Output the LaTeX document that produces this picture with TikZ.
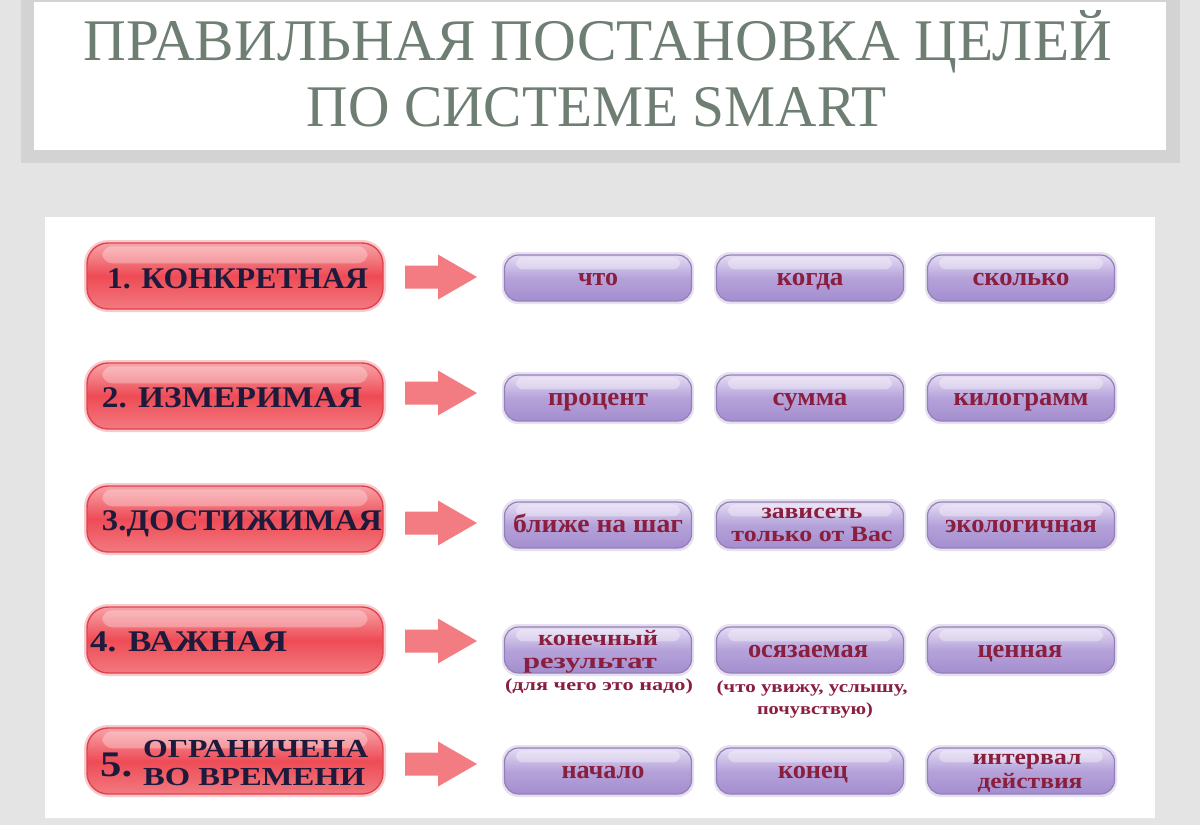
\documentclass[tikz,border=0pt]{standalone}
\usepackage{fontspec}
\setmainfont{Liberation Serif}
\usepackage{graphicx}
\usetikzlibrary{calc}
\definecolor{bggray}{HTML}{E4E4E4}
\definecolor{framegray}{HTML}{D3D3D3}
\definecolor{titlec}{HTML}{6E7E72}
\definecolor{navy}{HTML}{1E1A3C}
\definecolor{crimson}{HTML}{8A1E3E}
\definecolor{arrowc}{HTML}{F27C82}
\definecolor{redhi}{HTML}{F7A3A8}
\definecolor{redmid}{HTML}{EE4B55}
\definecolor{redlow}{HTML}{F27A80}
\definecolor{redrim}{HTML}{E0424E}
\definecolor{redglow}{HTML}{F9CACD}
\definecolor{purhi}{HTML}{E4DCF3}
\definecolor{purmid}{HTML}{B5A2DA}
\definecolor{purlow}{HTML}{A48ECE}
\definecolor{purrim}{HTML}{9280BA}
\definecolor{purglow}{HTML}{E6E0EF}
\newcommand\fw[2]{\resizebox{#1pt}{\height}{#2}}
\begin{document}
\begin{tikzpicture}[x=1pt,y=1pt,
  redbox/.style={rounded corners=21pt, minimum width=296pt, minimum height=66pt, inner sep=0pt,
    draw=redrim, line width=1.4pt, top color=redhi, bottom color=redlow, middle color=redmid},
  purbox/.style={rounded corners=14pt, minimum width=187pt, minimum height=46pt, inner sep=0pt,
    draw=purrim, line width=1.2pt, top color=purhi, bottom color=purlow, middle color=purmid},
  redtxt/.style={inner sep=0pt, text=navy, font=\fontsize{30}{32}\selectfont\bfseries},
  redsmall/.style={inner sep=0pt, text=navy, font=\fontsize{26}{28}\selectfont\bfseries},
  purtxt/.style={inner sep=0pt, anchor=base, text=crimson, font=\fontsize{26}{28}\selectfont\bfseries},
  purtwo/.style={inner sep=0pt, anchor=base, text=crimson, font=\fontsize{22}{23}\selectfont\bfseries},
  notetxt/.style={inner sep=0pt, anchor=base, text=crimson, font=\fontsize{17}{19}\selectfont\bfseries},
  titletxt/.style={inner sep=0pt, anchor=base, text=titlec, font=\fontsize{59}{62}\selectfont}]
\useasboundingbox (0,0) rectangle (1200,-825);
% backgrounds
\fill[bggray] (0,0) rectangle (1200,-825);
\fill[framegray] (21,0) rectangle (1180,-163);
\fill[white] (34,-2) rectangle (1166,-150);
\fill[white] (45,-217) rectangle (1155,-818);
% title
\node[titletxt] (title1) at (598,-60) {\fw{1028}{ПРАВИЛЬНАЯ ПОСТАНОВКА ЦЕЛЕЙ}};
\node[titletxt] (title2) at (597,-126) {\fw{580}{ПО СИСТЕМЕ SMART}};
% red boxes
\foreach \i/\y in {1/276,2/396,3/519,4/640,5/761}{
  \fill[redglow, rounded corners=24pt] (87-3,-\y+36) rectangle (383+3,-\y-36);
  \node[redbox] (r\i) at (235,-\y) {};
  \fill[white, opacity=0.3, rounded corners=10pt] ($(r\i.north west)+(16,-4)$) rectangle ($(r\i.north east)+(-16,-21)$);
}
% purple boxes
\foreach \i/\y in {1/278,2/398,3/525,4/650,5/771}{
  \foreach \j/\x in {1/598,2/810,3/1021}{
    \fill[purglow, rounded corners=16pt] (\x-96,-\y+26) rectangle (\x+96,-\y-26);
    \node[purbox] (p\i\j) at (\x,-\y) {};
    \fill[white, opacity=0.35, rounded corners=7pt] ($(p\i\j.north west)+(12,-3)$) rectangle ($(p\i\j.north east)+(-12,-15)$);
  }
}
% arrows
\foreach \i/\y in {1/277,2/393,3/523,4/641,5/764}{
  \coordinate (a\i) at (441,-\y);
  \fill[arrowc] (a\i) ++(-36,11.5) -- ++(33,0) -- ++(0,11) -- ++(39,-22.5) -- ++(-39,-22.5) -- ++(0,11) -- ++(-33,0) -- cycle;
}
% red labels
\node[redtxt, anchor=base] (t1) at (237.5,-288) {\fw{261}{1. КОНКРЕТНАЯ}};
\node[redtxt, anchor=base] (t2) at (232,-407) {\fw{260}{2. ИЗМЕРИМАЯ}};
\node[redtxt, anchor=base] (t3) at (242,-530) {\fw{280}{3.ДОСТИЖИМАЯ}};
\node[redtxt, anchor=base west] (t4) at (90,-651) {\fw{197}{4. ВАЖНАЯ}};
\node[redtxt, anchor=base west, font=\fontsize{36}{38}\selectfont\bfseries] (t5n) at (100,-776) {\fw{32}{5.}};
\node[redsmall, anchor=base west] (t5a) at (143,-757) {\fw{225}{ОГРАНИЧЕНА}};
\node[redsmall, anchor=base west] (t5b) at (143,-785) {\fw{222}{ВО ВРЕМЕНИ}};
% purple labels
\node[purtxt] (l11) at (598,-285) {\fw{40}{что}};
\node[purtxt] (l12) at (810,-285) {\fw{67}{когда}};
\node[purtxt] (l13) at (1021,-285) {\fw{97}{сколько}};
\node[purtxt] (l21) at (598,-405) {\fw{100}{процент}};
\node[purtxt] (l22) at (810,-405) {\fw{75}{сумма}};
\node[purtxt] (l23) at (1021,-405) {\fw{135}{килограмм}};
\node[purtxt] (l31) at (598,-532) {\fw{170}{ближе на шаг}};
\node[purtwo] (l32a) at (812,-518) {\fw{101}{зависеть}};
\node[purtwo] (l32b) at (812,-541) {\fw{161}{только от Вас}};
\node[purtxt] (l33) at (1021,-532) {\fw{152}{экологичная}};
\node[purtwo] (l41a) at (598,-645) {\fw{120}{конечный}};
\node[purtwo] (l41b) at (590,-668) {\fw{134}{результат}};
\node[purtxt] (l42) at (808,-657) {\fw{120}{осязаемая}};
\node[purtxt] (l43) at (1020,-657) {\fw{85}{ценная}};
\node[purtxt] (l51) at (603,-778) {\fw{83}{начало}};
\node[purtxt] (l52) at (813,-778) {\fw{70}{конец}};
\node[purtwo] (l53a) at (1027,-764) {\fw{109}{интервал}};
\node[purtwo] (l53b) at (1030,-788) {\fw{105}{действия}};
% notes
\node[notetxt] (n41) at (599,-690) {\fw{188}{(для чего это надо)}};
\node[notetxt] (n42a) at (812,-692) {\fw{191}{(что увижу, услышу,}};
\node[notetxt] (n42b) at (815,-714) {\fw{116}{почувствую)}};
\end{tikzpicture}
\end{document}
